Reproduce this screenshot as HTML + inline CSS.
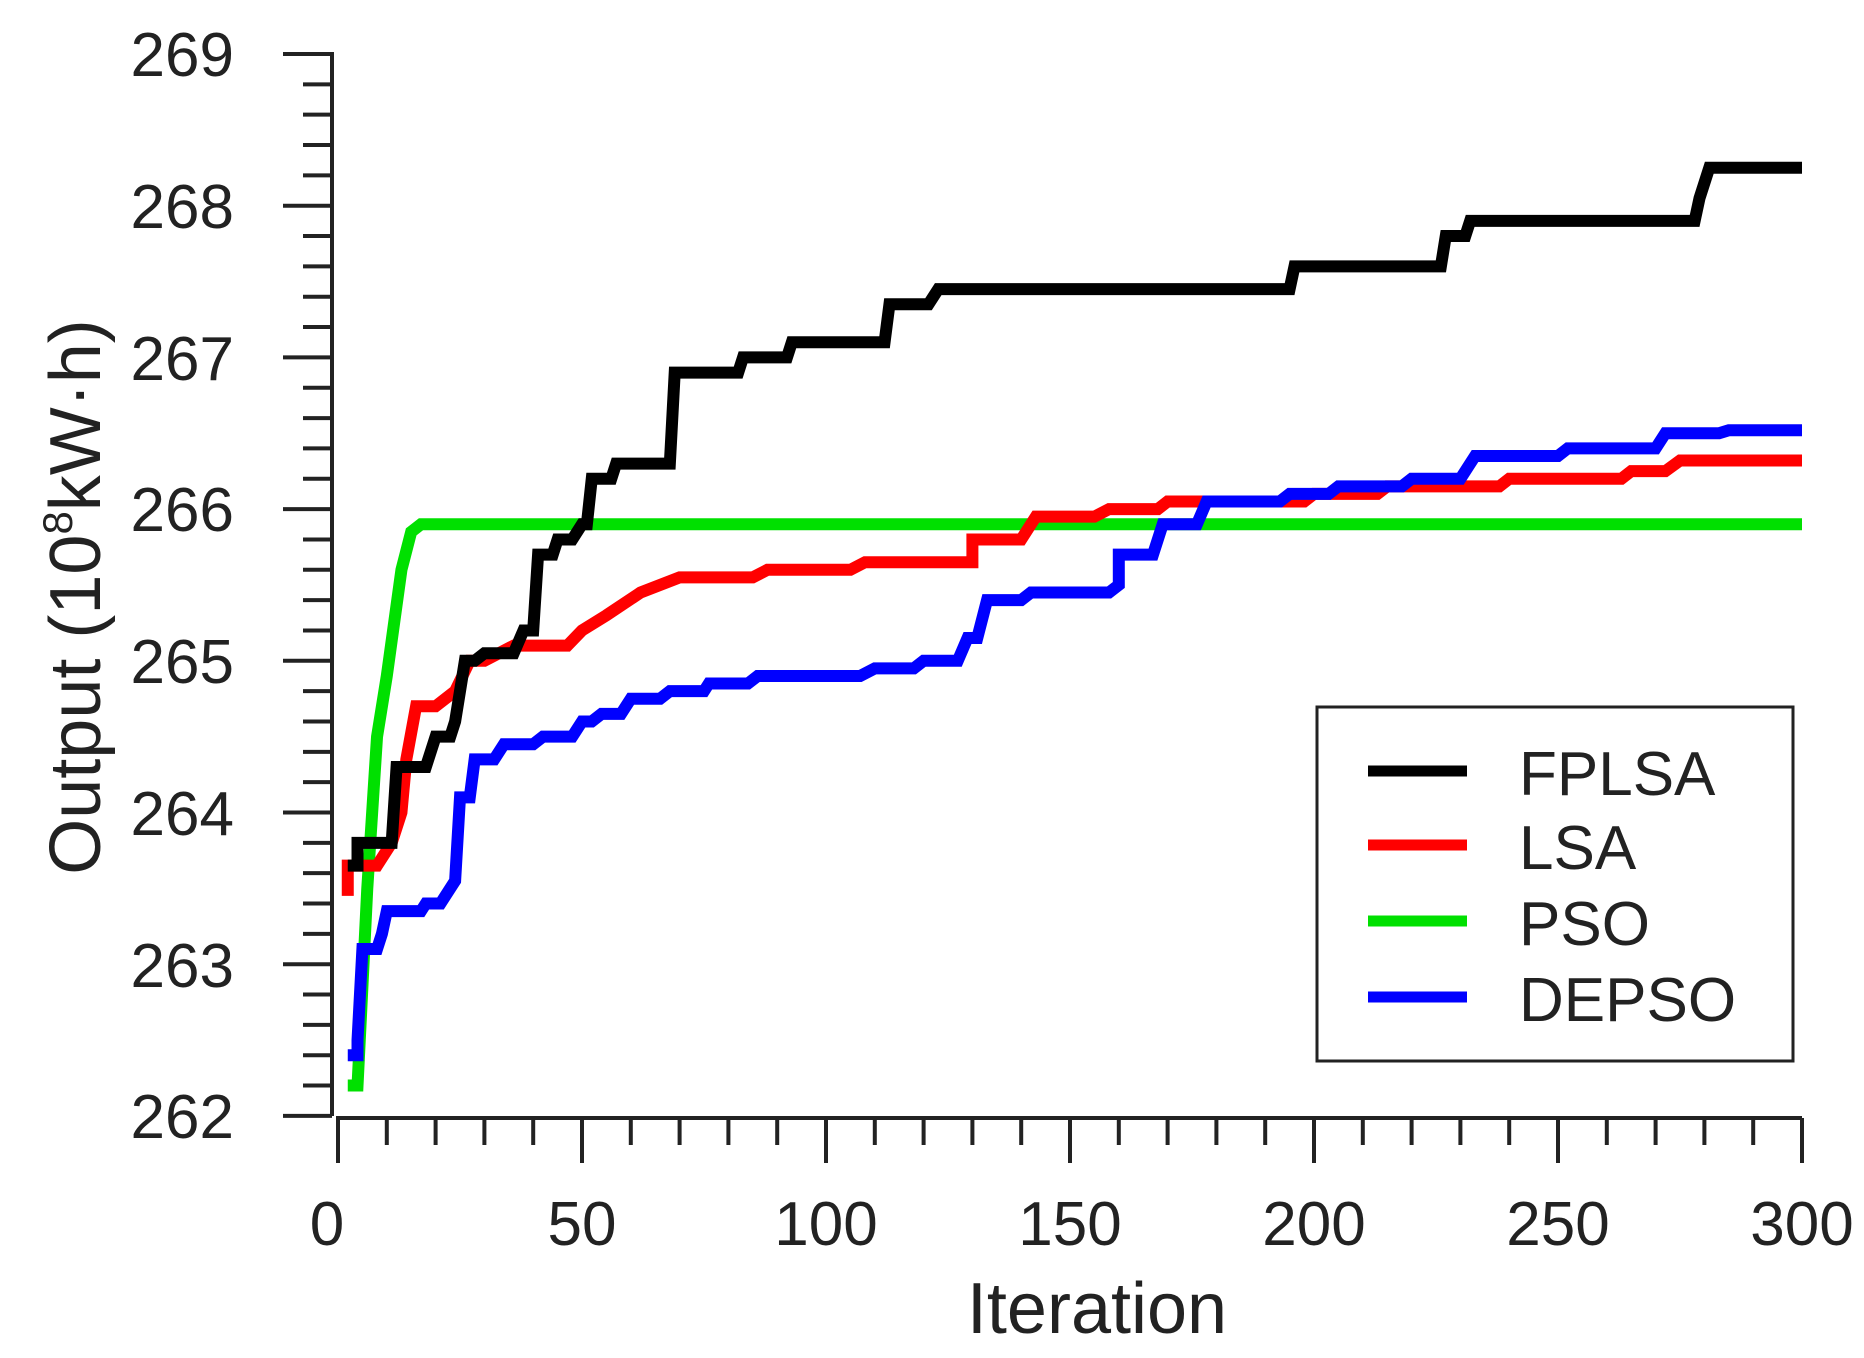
<!DOCTYPE html>
<html><head><meta charset="utf-8"><style>
html,body{margin:0;padding:0;background:#fff}
svg{display:block}
text{font-family:"Liberation Sans",Arial,sans-serif;fill:#222}
</style></head><body>
<svg width="1864" height="1358" viewBox="0 0 1864 1358" xmlns="http://www.w3.org/2000/svg">
<g stroke="#222" stroke-width="4" fill="none">
<line x1="332" y1="52" x2="332" y2="1116"/>
<line x1="336" y1="1118" x2="1802" y2="1118"/>
</g>
<g id="yt" stroke="#222" stroke-width="4"></g>
<g id="xt" stroke="#222" stroke-width="4"></g>
<g font-size="62" text-anchor="end">
<text x="234" y="76">269</text>
<text x="234" y="228">268</text>
<text x="234" y="380">267</text>
<text x="234" y="531">266</text>
<text x="234" y="683">265</text>
<text x="234" y="835">264</text>
<text x="234" y="987">263</text>
<text x="234" y="1138">262</text>
</g>
<g font-size="62" text-anchor="middle">
<text x="327" y="1245">0</text>
<text x="582" y="1245">50</text>
<text x="826" y="1245">100</text>
<text x="1070" y="1245">150</text>
<text x="1314" y="1245">200</text>
<text x="1558" y="1245">250</text>
<text x="1802" y="1245">300</text>
</g>
<text x="1097" y="1333" font-size="72" text-anchor="middle">Iteration</text>
<text transform="translate(100,597) rotate(-90)" font-size="72" text-anchor="middle">Output (10<tspan font-size="42" dy="-28">8</tspan><tspan dy="28">kW·h)</tspan></text>
<g fill="none" stroke-width="12" transform="matrix(4.88 0 0 -151.7 338 40861.3)">
<path vector-effect="non-scaling-stroke" stroke="#00e000" d="M2 262.2 L4 262.2 L6 263.5 L8 264.5 L10 264.9 L13 265.6 L15 265.85 L17 265.9 L300 265.9"/>
<path vector-effect="non-scaling-stroke" stroke="#ff0000" d="M2 263.45 V263.65 H8 L11 263.8 L13 264 L14 264.35 L16 264.7 H20 L24 264.8 L27 265 H30 L36 265.1 H47 L50 265.2 L55 265.3 L62 265.45 L70 265.55 H85 L88 265.6 H105 L108 265.65 H130 V265.8 H140 L143 265.95 H155 L158 266 H168 L170 266.05 H198 L200 266.1 H213 L215 266.15 H238 L240 266.2 H263 L265 266.25 H272 L275 266.32 H300"/>
<path vector-effect="non-scaling-stroke" stroke="#0000ff" d="M2 262.4 H4 V262.5 L5 263.1 H8 L9 263.2 L10 263.35 H17 L18 263.4 H21 L24 263.55 L25 264.1 H27 L28 264.35 H32 L34 264.45 H40 L42 264.5 H48 L50 264.6 H52 L54 264.65 H58 L60 264.75 H66 L68 264.8 H75 L76 264.85 H84 L86 264.9 H107 L110 264.95 H118 L120 265 H127 L129 265.15 H131 L133 265.4 H140 L142 265.45 H158 L160 265.5 V265.7 H167 L169 265.9 H176 L178 266.05 H193 L195 266.1 H203 L205 266.15 H218 L220 266.2 H230 L233 266.35 H250 L252 266.4 H270 L272 266.5 H283 L285 266.52 H300"/>
<path vector-effect="non-scaling-stroke" stroke="#000" d="M2 263.65 H4 V263.8 H11 L12 264.3 H18 L20 264.5 H23 L24 264.6 L26 265 H28 L30 265.05 H36 L38 265.2 H40 L41 265.7 H44 L45 265.8 H48 L50 265.9 H51 L52 266.2 H56 L57 266.3 H68 L69 266.9 H82 L83 267 H92 L93 267.1 H112 L113 267.35 H121 L123 267.45 H195 L196 267.6 H226 L227 267.8 H231 L232 267.9 H278 L279 268.05 L281 268.25 H300"/>
</g>
<rect x="1317" y="707" width="476" height="354" fill="#fff" stroke="#222" stroke-width="3"/>
<g stroke-width="11">
<line x1="1368" y1="771" x2="1467" y2="771" stroke="#000"/>
<line x1="1368" y1="845" x2="1467" y2="845" stroke="#ff0000"/>
<line x1="1368" y1="921" x2="1467" y2="921" stroke="#00e000"/>
<line x1="1368" y1="997" x2="1467" y2="997" stroke="#0000ff"/>
</g>
<g font-size="62">
<text x="1519" y="795">FPLSA</text>
<text x="1519" y="869">LSA</text>
<text x="1519" y="945">PSO</text>
<text x="1519" y="1021">DEPSO</text>
</g>
<script>
var ns="http://www.w3.org/2000/svg";
var yt=document.getElementById("yt"),xt=document.getElementById("xt");
for(var k=0;k<=35;k++){var y=54+30.34*k;var l=document.createElementNS(ns,"line");l.setAttribute("x1",k%5==0?283:303);l.setAttribute("x2",332);l.setAttribute("y1",y);l.setAttribute("y2",y);yt.appendChild(l);}
for(var k=0;k<=30;k++){var x=338+48.8*k;var l=document.createElementNS(ns,"line");l.setAttribute("x1",x);l.setAttribute("x2",x);l.setAttribute("y1",1118);l.setAttribute("y2",k%5==0?1163:1145);xt.appendChild(l);}
</script>
</svg>
</body></html>
